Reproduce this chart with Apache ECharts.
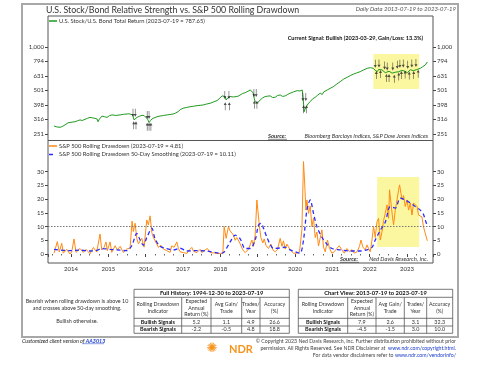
<!DOCTYPE html>
<html><head><meta charset="utf-8">
<script src="https://cdn.jsdelivr.net/npm/echarts@6/dist/echarts.min.js"></script>
<style>html,body{margin:0;padding:0;background:#fff}#c{width:480px;height:371px}</style>
</head><body><div id="c"></div>
<script>
// ---------------- DATA ----------------
const yearTicks = [2014,2015,2016,2017,2018,2019,2020,2021,2022,2023];
const topTickLevels = [251,316,398,501,631,794,1000];
const bottomTicks = [0,5,10,15,20,25,30];

const stockBondDates = [2013.545,2013.62,2013.705,2013.78,2013.839,2013.92,2013.973,2014.03,2014.107,2014.18,2014.241,2014.30,2014.375,2014.44,2014.509,2014.58,2014.643,2014.70,2014.724,2014.76,2014.831,2014.90,2014.965,2015.03,2015.099,2015.20,2015.314,2015.40,2015.501,2015.56,2015.609,2015.65,2015.689,2015.72,2015.769,2015.84,2015.903,2015.96,2016.011,2016.05,2016.091,2016.13,2016.198,2016.30,2016.386,2016.48,2016.574,2016.65,2016.735,2016.80,2016.869,2016.93,2017.003,2017.10,2017.19,2017.28,2017.378,2017.46,2017.539,2017.63,2017.727,2017.82,2017.914,2017.99,2018.048,2018.10,2018.129,2018.155,2018.20,2018.263,2018.35,2018.424,2018.48,2018.531,2018.60,2018.665,2018.74,2018.799,2018.84,2018.879,2018.91,2018.933,2018.987,2019.03,2019.067,2019.13,2019.201,2019.27,2019.335,2019.40,2019.469,2019.53,2019.603,2019.67,2019.737,2019.80,2019.871,2019.96,2020.059,2020.13,2020.193,2020.215,2020.247,2020.27,2020.30,2020.35,2020.408,2020.47,2020.542,2020.61,2020.676,2020.73,2020.77,2020.863,2020.94,2021.024,2021.12,2021.212,2021.30,2021.399,2021.48,2021.56,2021.65,2021.748,2021.84,2021.936,2022.02,2022.097,2022.15,2022.204,2022.24,2022.284,2022.33,2022.365,2022.42,2022.472,2022.52,2022.552,2022.60,2022.633,2022.69,2022.74,2022.78,2022.82,2022.86,2022.901,2022.95,2023.008,2023.05,2023.088,2023.13,2023.169,2023.21,2023.249,2023.30,2023.357,2023.42,2023.491,2023.545];
const stockBondValues = [285,281,279,284,290,300,309,303,305,310,314,311,317,322,327,324,322,318,305,318,334,330,327,336,340,337,340,343,345,346,349,340,314,322,327,333,338,336,334,318,301,312,322,330,334,337,340,342,345,350,358,370,378,383,387,390,394,396,398,404,409,418,427,445,460,450,455,431,445,455,452,455,458,460,478,484,495,505,498,484,440,420,409,420,431,445,455,458,460,448,450,462,467,456,460,470,480,490,500,497,505,450,358,372,387,405,420,438,450,466,480,470,490,505,518,532,555,577,600,618,635,649,662,676,695,713,720,713,690,676,700,713,695,687,665,659,680,676,660,649,670,687,675,670,690,697,680,665,685,697,680,687,700,697,705,713,730,752,787.65];

const drawdownDates = [2013.545,2013.633,2013.686,2013.751,2013.794,2013.884,2013.973,2014.019,2014.08,2014.134,2014.241,2014.33,2014.402,2014.509,2014.598,2014.688,2014.777,2014.823,2014.885,2014.938,2014.973,2015.046,2015.091,2015.18,2015.241,2015.314,2015.402,2015.493,2015.582,2015.635,2015.67,2015.716,2015.761,2015.804,2015.85,2015.895,2015.957,2016.029,2016.072,2016.118,2016.164,2016.206,2016.252,2016.298,2016.34,2016.405,2016.475,2016.566,2016.654,2016.7,2016.761,2016.834,2016.877,2016.922,2017.011,2017.102,2017.172,2017.236,2017.279,2017.37,2017.458,2017.504,2017.592,2017.654,2017.727,2017.815,2017.906,2017.995,2018.067,2018.102,2018.155,2018.217,2018.263,2018.351,2018.397,2018.442,2018.531,2018.603,2018.665,2018.753,2018.845,2018.887,2018.933,2018.979,2019.005,2019.048,2019.086,2019.139,2019.174,2019.228,2019.29,2019.354,2019.408,2019.469,2019.531,2019.603,2019.649,2019.692,2019.737,2019.783,2019.871,2019.96,2020.051,2020.121,2020.185,2020.228,2020.255,2020.292,2020.319,2020.362,2020.408,2020.453,2020.496,2020.542,2020.587,2020.63,2020.676,2020.721,2020.764,2020.81,2020.871,2020.925,2020.989,2021.051,2021.123,2021.185,2021.257,2021.319,2021.391,2021.461,2021.525,2021.587,2021.66,2021.729,2021.767,2021.82,2021.882,2021.928,2021.971,2022.016,2022.062,2022.105,2022.15,2022.196,2022.239,2022.284,2022.33,2022.373,2022.418,2022.464,2022.507,2022.533,2022.571,2022.606,2022.641,2022.686,2022.732,2022.775,2022.802,2022.839,2022.874,2022.909,2022.954,2023.0,2023.043,2023.088,2023.134,2023.177,2023.223,2023.268,2023.311,2023.357,2023.402,2023.44,2023.48,2023.515,2023.545];
const drawdownValues = [0.3,4.5,0.7,3.9,0.3,1.7,0,0.8,5.5,0.6,2.0,0.6,1.7,0.1,2.4,0.7,7.3,1.5,2.4,4.4,1.2,4.4,0.6,3.0,1.5,2.8,0.6,1.8,2.2,12.0,8.2,11.2,5.7,3.7,3.1,5.7,2.5,12.4,10.6,13.9,7.8,6.0,4.8,3.6,2.4,3.2,1.8,1.2,0.6,3.0,2.4,4.4,2.0,0.8,0.5,0.2,1.5,2.4,1.0,0.5,1.7,0.5,1.5,2.0,0.5,0.4,0.2,0.2,0.3,10.0,5.7,10.0,8.4,6.9,5.0,6.0,3.7,1.5,0.5,1.7,5.1,2.8,6.9,19.7,16.0,10.0,6.0,4.0,5.5,3.0,2.0,3.6,1.5,0.8,1.6,5.7,2.8,4.8,1.8,3.6,1.5,0.3,0.3,0.8,8.8,33.7,27.0,16.0,19.7,14.8,17.5,10.0,13.0,6.0,8.0,2.9,3.6,8.8,2.5,0.8,5.1,2.0,0.3,0.8,2.0,3.0,1.5,0.3,2.0,0.8,1.6,0.3,0.8,2.8,5.1,2.5,1.5,3.3,2.0,0.8,5.1,10.0,6.0,11.8,13.0,5.1,8.0,12.2,14.8,17.9,13.0,23.4,18.6,14.2,10.6,16.0,19.7,23.4,25.2,22.0,19.7,21.3,17.3,19.7,16.0,18.6,14.2,18.6,19.3,17.3,14.2,14.8,13.5,10.0,8.0,7.3,4.81];

const smoothDates = [2013.545,2013.973,2014.241,2014.509,2014.688,2014.823,2015.046,2015.314,2015.493,2015.627,2015.761,2015.85,2015.938,2016.029,2016.164,2016.252,2016.386,2016.566,2016.743,2016.922,2017.102,2017.279,2017.638,2017.995,2018.083,2018.263,2018.397,2018.531,2018.665,2018.799,2018.933,2019.022,2019.086,2019.156,2019.246,2019.335,2019.424,2019.603,2019.737,2019.871,2020.051,2020.139,2020.228,2020.319,2020.408,2020.496,2020.587,2020.721,2020.855,2020.989,2021.212,2021.48,2021.748,2021.928,2022.062,2022.15,2022.284,2022.418,2022.552,2022.686,2022.82,2022.954,2023.088,2023.223,2023.357,2023.44,2023.5,2023.545];
const smoothValues = [1.7,1.2,1.4,1.1,1.3,2.0,1.7,1.4,1.2,3.0,7.5,5.1,3.2,6.0,9.4,5.5,2.8,2.0,1.5,2.1,1.1,1.2,1.1,0.3,0.5,4.4,6.9,5.5,2.0,2.0,5.1,10.6,11.2,9.4,6.1,3.5,2.0,2.2,2.5,1.5,0.6,0.3,5.1,16.0,19.7,14.8,10.0,6.1,3.6,2.0,1.5,1.1,1.1,1.5,2.4,5.1,8.6,11.6,17.3,16.7,20.4,19.7,18.6,17.3,16.0,14.5,12.0,10.11];

const bearishSignalDates = [2015.66,2015.72,2016.04,2016.09,2018.12,2018.23,2018.90,2018.96,2020.21,2020.29,2022.15,2022.25,2022.40,2022.47,2022.62,2022.74,2022.81,2022.90,2023.02,2023.13,2023.24];
const bearishSignalLevels = [352,352,340,340,466,466,482,482,452,452,765,770,745,735,735,755,765,770,755,770,775];
const bullishSignalDates = [2015.68,2015.74,2016.04,2016.09,2016.14,2018.13,2018.24,2018.91,2018.98,2020.23,2020.31,2022.18,2022.29,2022.45,2022.52,2022.66,2022.78,2022.85,2022.95,2023.06,2023.18,2023.30];
const bullishSignalLevels = [288,288,282,282,282,390,390,400,400,372,372,640,650,612,610,605,625,640,645,635,640,655];

const topHighlight = {start: 2022.10, end: 2023.33, low: 513, high: 895};
const bottomHighlight = {start: 2022.20, end: 2023.33, low: 2.55, high: 28.1};
const thresholdLevel = 10;

const tableHeaders = ['Rolling Drawdown\nIndicator','Expected\nAnnual\nReturn (%)','Avg Gain/\nTrade','Trades/\nYear','Accuracy\n(%)'];
const rowLabels = ['Bullish Signals','Bearish Signals'];
const fullHistoryTitle = 'Full History: 1994-12-30 to 2023-07-19';
const fullHistoryBullish = ['5.2','1.1','4.9','26.6'];
const fullHistoryBearish = ['-2.2','-0.5','4.8','18.8'];
const chartViewTitle = 'Chart View: 2013-07-19 to 2023-07-19';
const chartViewBullish = ['7.9','2.6','3.1','32.3'];
const chartViewBearish = ['-4.5','-1.5','3.0','10.0'];

// ---------------- LAYOUT ----------------
const X_MIN = 2013.383, X_MAX = 2023.697;
const FONT = 'Lato, "Open Sans", sans-serif';
const TXT = '#333';
const GREEN = '#1f9a1f', ORANGE = '#ff8a12', BLUE = '#2a2aff';
const L = 48, R = 433;
const TOP_BOX = 16, MID = 140.5, BOT_BOX = 263;

const lg = v => Math.log10(v);
const fmtTop = v => { const n = Math.round(Math.pow(10, v)); return n.toLocaleString('en-US'); };

const g = [];
function txt(x, y, text, o) {
  o = o || {};
  g.push({type:'text', silent:true, z:o.z||10, style:{x, y, text, fill:o.fill||TXT,
    font:(o.style||'normal')+' '+(o.weight||'normal')+' '+(o.size||6)+'px '+FONT,
    align:o.align||'left', verticalAlign:o.va||'middle', lineHeight:o.lh}});
}
function line(x1,y1,x2,y2,o){o=o||{};g.push({type:'line',silent:true,z:o.z||10,shape:{x1,y1,x2,y2},style:{stroke:o.stroke||'#444',lineWidth:o.w||1,lineDash:o.dash||null}});}
function rect(x,y,w,h,o){o=o||{};g.push({type:'rect',silent:true,z:o.z||0,shape:{x,y,width:w,height:h},style:{fill:o.fill||'none',stroke:o.stroke||'#444',lineWidth:o.w||1}});}

// outer frame
rect(22, 4, 436, 333, {stroke:'#a8a8a8', w:2});
// panel boxes
rect(L, TOP_BOX, R-L, MID-TOP_BOX, {stroke:'#555', w:1, z:5});
rect(L, MID, R-L, BOT_BOX-MID, {stroke:'#555', w:1, z:5});
// title
txt(46, 10, 'U.S. Stock/Bond Relative Strength vs. S&P 500 Rolling Drawdown', {size:8.8});
txt(456, 9, 'Daily Data 2013-07-19 to 2023-07-19', {size:6, style:'italic', align:'right', fill:'#555'});
// top legend
line(49, 21, 57, 21, {stroke:GREEN, w:1.5});
txt(59, 21, 'U.S. Stock/U.S. Bond Total Return (2023-07-19 = ' + stockBondValues[stockBondValues.length-1].toFixed(2) + ')', {size:5.8});
txt(423, 38, 'Current Signal: Bullish (2023-03-29, Gain/Loss: 13.3%)', {size:5.6, weight:'bold', align:'right', fill:'#111'});
// bottom legend
line(49, 146, 57, 146, {stroke:ORANGE, w:1.5});
txt(59, 146, 'S&P 500 Rolling Drawdown (2023-07-19 = ' + drawdownValues[drawdownValues.length-1].toFixed(2) + ')', {size:5.8});
line(49, 154.5, 53, 154.5, {stroke:BLUE, w:1.5});
txt(59, 154.5, 'S&P 500 Rolling Drawdown 50-Day Smoothing (2023-07-19 = ' + smoothValues[smoothValues.length-1].toFixed(2) + ')', {size:5.8});
// sources
txt(428, 136.5, 'Bloomberg Barclays Indices, S&P Dow Jones Indices', {size:5.8, style:'italic', align:'right'});
txt(268, 136.5, 'Source:', {size:5.8, style:'italic', weight:'bold'});
line(268, 139.3, 287, 139.3, {stroke:'#333', w:0.6});
txt(428, 259.5, 'Ned Davis Research, Inc.', {size:5.8, style:'italic', align:'right'});
txt(340, 259.5, 'Source:', {size:5.8, style:'italic', weight:'bold'});
line(340, 262.3, 359, 262.3, {stroke:'#333', w:0.6});
// rule text
txt(77, 305, 'Bearish when rolling drawdown is above 10\nand crosses above 50-day smoothing.', {size:5.4, align:'center', lh:6.8});
txt(77, 321, 'Bullish otherwise.', {size:5.4, align:'center'});

function table(xs, title, bull, bear) {
  const ys = [289.3, 297.3, 318.3, 326, 333.3];
  rect(xs[0], ys[0], xs[5]-xs[0], ys[4]-ys[0], {stroke:'#555', w:0.8, fill:'#fff', z:8});
  for (let i=1;i<4;i++) line(xs[0], ys[i], xs[5], ys[i], {stroke:'#555', w:0.8});
  for (let j=1;j<5;j++) line(xs[j], ys[1], xs[j], ys[4], {stroke:'#555', w:0.8});
  txt((xs[0]+xs[5])/2, (ys[0]+ys[1])/2, title, {size:5.8, weight:'bold', align:'center', fill:'#111'});
  tableHeaders.forEach((h,j)=>txt((xs[j]+xs[j+1])/2, (ys[1]+ys[2])/2, h, {size:5.3, align:'center', lh:6.3}));
  [bull, bear].forEach((row, r) => {
    const cy = (ys[2+r]+ys[3+r])/2;
    txt((xs[0]+xs[1])/2, cy, rowLabels[r], {size:5.4, weight:'bold', align:'center', fill:'#111'});
    row.forEach((v,j)=>txt((xs[j+1]+xs[j+2])/2, cy, v, {size:5.4, align:'center'}));
  });
}
table([134,181.7,211,241.7,260,289.3], fullHistoryTitle, fullHistoryBullish, fullHistoryBearish);
table([298.3,347.7,376,404.3,426.7,452.7], chartViewTitle, chartViewBullish, chartViewBearish);

// footer
g.push({type:'text', silent:true, z:10, style:{x:22, y:341, verticalAlign:'middle', text:'{a|Customized client version of }{b|AA3013}',
  rich:{a:{font:'italic 5.4px '+FONT, fill:'#222'}, b:{font:'italic bold 5.4px '+FONT, fill:'#1a3ccc'}}}});
line(82, 343.7, 104, 343.7, {stroke:'#1a3ccc', w:0.5});
g.push({type:'text', silent:true, z:10, style:{x:212, y:349, text:'✺', font:'13px "DejaVu Sans"', fill:'#f7941d', align:'center', verticalAlign:'middle'}});
txt(229, 349.5, 'NDR', {size:11, weight:'bold', fill:'#f7941d'});
txt(456, 341.5, '© Copyright 2023 Ned Davis Research, Inc. Further distribution prohibited without prior', {size:5.2, align:'right', fill:'#444'});
g.push({type:'text', silent:true, z:10, style:{x:456, y:348.5, align:'right', verticalAlign:'middle', text:'{a|permission. All Rights Reserved. See NDR Disclaimer at  }{b|www.ndr.com/copyright.html.}',
  rich:{a:{font:'5.2px '+FONT, fill:'#444'}, b:{font:'5.2px '+FONT, fill:'#1a3ccc'}}}});
g.push({type:'text', silent:true, z:10, style:{x:456, y:355.5, align:'right', verticalAlign:'middle', text:'{a|For data vendor disclaimers refer to }{b|www.ndr.com/vendorinfo/}',
  rich:{a:{font:'5.2px '+FONT, fill:'#444'}, b:{font:'5.2px '+FONT, fill:'#1a3ccc'}}}});

// ---------------- CHART ----------------
const arrowDown = 'path://M4,0 L6,0 L6,13 L10,13 L5,20 L0,13 L4,13 Z';
const arrowUp = 'path://M5,0 L10,7 L6,7 L6,20 L4,20 L4,7 L0,7 Z';
const axisLabelStyle = {fontSize:6, color:TXT, fontFamily:FONT};

const yTop = pos => ({type:'value', gridIndex:0, position:pos, min:lg(topTickLevels[0]), max:lg(topTickLevels[topTickLevels.length-1]), interval:0.1,
  axisLine:{show:false}, axisTick:{show:true, length:3, lineStyle:{color:'#444'}}, splitLine:{show:false},
  axisLabel:Object.assign({formatter:fmtTop, margin:4, showMinLabel:true, showMaxLabel:true}, axisLabelStyle)});
const yBot = pos => ({type:'value', gridIndex:1, position:pos, min:bottomTicks[0], max:bottomTicks[bottomTicks.length-1], interval:5,
  axisLine:{show:false}, axisTick:{show:true, length:3, lineStyle:{color:'#444'}}, splitLine:{show:false},
  axisLabel:Object.assign({margin:4, showMinLabel:true, showMaxLabel:true}, axisLabelStyle)});

const option = {
  animation:false,
  backgroundColor:'#fff',
  grid:[
    {left:L, width:R-L, top:47, height:87, containLabel:false, outerBoundsMode:'none'},
    {left:L, width:R-L, top:171.7, height:82.3, containLabel:false, outerBoundsMode:'none'}
  ],
  xAxis:[
    {type:'value', gridIndex:0, min:X_MIN, max:X_MAX, show:false},
    {type:'value', gridIndex:1, min:X_MIN, max:X_MAX, splitNumber:10, position:'bottom', offset:9,
      axisLine:{show:false}, splitLine:{show:false},
      axisTick:{show:true, length:3, lineStyle:{color:'#444'}},
      minorTick:{show:true, splitNumber:4, length:1.5, lineStyle:{color:'#666'}},
      axisLabel:Object.assign({margin:3, showMinLabel:false, showMaxLabel:false,
        formatter:v => yearTicks.indexOf(Math.round(v))>=0 && Math.abs(v-Math.round(v))<1e-6 ? String(Math.round(v)) : ''}, axisLabelStyle)}
  ],
  yAxis:[yTop('left'), yTop('right'), yBot('left'), yBot('right')],
  series:[
    {type:'line', xAxisIndex:0, yAxisIndex:0, data:[], z:1, silent:true,
      markArea:{silent:true, itemStyle:{color:'#fbf7a0'}, data:[[{xAxis:topHighlight.start, yAxis:lg(topHighlight.high)},{xAxis:topHighlight.end, yAxis:lg(topHighlight.low)}]]}},
    {type:'line', xAxisIndex:0, yAxisIndex:0, z:3, showSymbol:false, silent:true,
      data:stockBondDates.map((d,i)=>[d, lg(stockBondValues[i])]),
      lineStyle:{color:GREEN, width:1}},
    {type:'scatter', xAxisIndex:0, yAxisIndex:0, z:4, silent:true, symbol:arrowDown, symbolSize:[3,8],
      itemStyle:{color:'#222'}, data:bearishSignalDates.map((d,i)=>[d, lg(bearishSignalLevels[i])])},
    {type:'scatter', xAxisIndex:0, yAxisIndex:0, z:4, silent:true, symbol:arrowUp, symbolSize:[3,8],
      itemStyle:{color:'#222'}, data:bullishSignalDates.map((d,i)=>[d, lg(bullishSignalLevels[i])])},
    {type:'line', xAxisIndex:1, yAxisIndex:2, data:[], z:1, silent:true,
      markArea:{silent:true, itemStyle:{color:'#fbf7a0'}, data:[[{xAxis:bottomHighlight.start, yAxis:bottomHighlight.high},{xAxis:bottomHighlight.end, yAxis:bottomHighlight.low}]]},
      markLine:{silent:true, symbol:['none','none'], label:{show:false}, lineStyle:{color:'#777', type:[1.5,1.5], width:1}, data:[{yAxis:thresholdLevel}]}},
    {type:'line', xAxisIndex:1, yAxisIndex:2, z:3, showSymbol:false, silent:true, clip:false,
      data:drawdownDates.map((d,i)=>[d, drawdownValues[i]]), lineStyle:{color:ORANGE, width:1}},
    {type:'line', xAxisIndex:1, yAxisIndex:2, z:4, showSymbol:false, silent:true, clip:false, smooth:0.3,
      data:smoothDates.map((d,i)=>[d, smoothValues[i]]), lineStyle:{color:BLUE, width:1.3, type:[4,3]}}
  ],
  graphic:{elements:g}
};
const chart = echarts.init(document.getElementById('c'), null, {renderer:'canvas'});
chart.setOption(option);
</script></body></html>
